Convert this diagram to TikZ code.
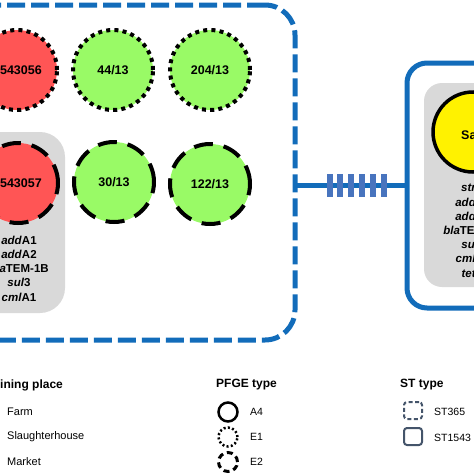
\documentclass[tikz,border=0pt]{standalone}
\usepackage{fontspec}
\setmainfont{Liberation Sans}
\definecolor{stblue}{RGB}{18,108,186}
\definecolor{barblue}{RGB}{72,116,190}
\definecolor{redc}{RGB}{255,85,85}
\definecolor{greenc}{RGB}{153,250,102}
\definecolor{grayc}{RGB}{217,217,217}
\definecolor{slate}{RGB}{68,84,106}
\begin{document}
\begin{tikzpicture}[x=1pt,y=-1pt,
  circ/.style={circle,minimum size=80pt,inner sep=0pt,outer sep=0pt,draw=black,line width=4pt,font=\fontsize{12.5}{14}\selectfont\bfseries},
  pfgeEone/.style={dash pattern=on 4pt off 4.2pt},
  pfgeEtwo/.style={dash pattern=on 19pt off 11pt},
  lbl/.style={font=\fontsize{12.5}{14}\selectfont\bfseries,inner sep=0pt},
  genes/.style={font=\fontsize{11.5}{14.2}\selectfont\bfseries,align=center,inner sep=0pt},
  graybox/.style={rectangle,fill=grayc,inner sep=0pt,outer sep=0pt},
  stbar/.style={rectangle,fill=barblue,minimum width=6pt,minimum height=23pt,inner sep=0pt},
  ttl/.style={font=\fontsize{12}{14}\selectfont\bfseries,inner sep=0pt,anchor=west},
  itm/.style={font=\fontsize{11}{13}\selectfont,inner sep=0pt,anchor=west},
  itms/.style={font=\fontsize{10.5}{13}\selectfont,inner sep=0pt,anchor=west},
  lc/.style={circle,minimum size=19pt,inner sep=0pt,draw=black},
  stleg/.style={rectangle,minimum width=18pt,minimum height=17pt,inner sep=0pt,draw=slate,line width=2pt,rounded corners=3pt}]
\useasboundingbox (0,0) rectangle (474,474);
\clip (0,0) rectangle (474,474);
% ST365 group (dashed)
\node[rectangle,draw=stblue,line width=5pt,dash pattern=on 18pt off 6pt,rounded corners=30pt,
      minimum width=345pt,minimum height=335pt,inner sep=0pt,outer sep=0pt] (st365) at (122.5,172.5) {};
% ST1543 group (solid)
\node[rectangle,draw=stblue,line width=5pt,rounded corners=20pt,
      minimum width=153pt,minimum height=245pt,inner sep=0pt,outer sep=0pt] (st1543) at (483.5,185.5) {};
\node[graybox,rounded corners=18pt,minimum width=136pt,minimum height=204pt] (gR) at (492,185) {};
\node[graybox,rounded corners=25pt,minimum width=105pt,minimum height=181pt] (gL) at (12.5,222.5) {};
% connector
\draw[stblue,line width=4.5pt] (st365.east |- st1543.west) -- (st1543.west)
  node[stbar,pos=0.310]{} node[stbar,pos=0.406]{} node[stbar,pos=0.503]{}
  node[stbar,pos=0.599]{} node[stbar,pos=0.696]{} node[stbar,pos=0.792]{};
% circles
\node[circ,fill=redc,pfgeEone] (c1) at (17,70) {};
\node[lbl,anchor=east] (t1) at (42,70) {543056};
\node[circ,fill=greenc,pfgeEone] (c2) at (113,70) {44/13};
\node[circ,fill=greenc,pfgeEone] (c3) at (210,70) {204/13};
\node[circ,fill=redc,pfgeEtwo] (c4) at (18,183) {};
\node[lbl,anchor=east] (t4) at (42,183) {543057};
\node[circ,fill=greenc,pfgeEtwo] (c5) at (114,182) {30/13};
\node[circ,fill=greenc,pfgeEtwo] (c6) at (210,184) {122/13};
\node[circ,fill=yellow,line width=3.5pt] (c7) at (473,132) {};
\node[lbl,anchor=west] (t7) at (461,135) {Sa};
% gene lists
\node[genes] (gl) at (19,268.5) {\textit{add}A1\\\textit{add}A2\\\textit{bla}TEM-1B\\\textit{sul}3\\\textit{cml}A1};
\node[genes] (gr) at (473,230.5) {\textit{str}A\\\textit{add}A1\\\textit{add}A2\\\textit{bla}TEM-1B\\\textit{sul}3\\\textit{cml}A1\\\textit{tet}A};
% legend: place
\node[ttl] (lg1) at (0,385) {ining place};
\node[itm] (lf) at (7,412) {Farm};
\node[itm] (ls) at (7,437) {Slaughterhouse};
\node[itm] (lm) at (7,462) {Market};
% legend: PFGE
\node[ttl] (lg2) at (216,385) {PFGE type};
\node[lc,line width=2.5pt] (pa) at (228,412) {};
\node[lc,line width=2.5pt,dash pattern=on 2pt off 2.3pt] (pb) at (228,437) {};
\node[lc,line width=3pt,dash pattern=on 6pt off 4pt] (pc) at (228,462) {};
\node[itms] (la) at (250,412) {A4};
\node[itms] (lb) at (250,437) {E1};
\node[itms] (lc2) at (250,462) {E2};
% legend: ST
\node[ttl] (lg3) at (400,385) {ST type};
\node[stleg,dash pattern=on 4pt off 2.5pt] (sa) at (413,410.5) {};
\node[stleg] (sb) at (413,436.5) {};
\node[itms] (lsa) at (434,412) {ST365};
\node[itms] (lsb) at (434,438) {ST1543};
\end{tikzpicture}
\end{document}
